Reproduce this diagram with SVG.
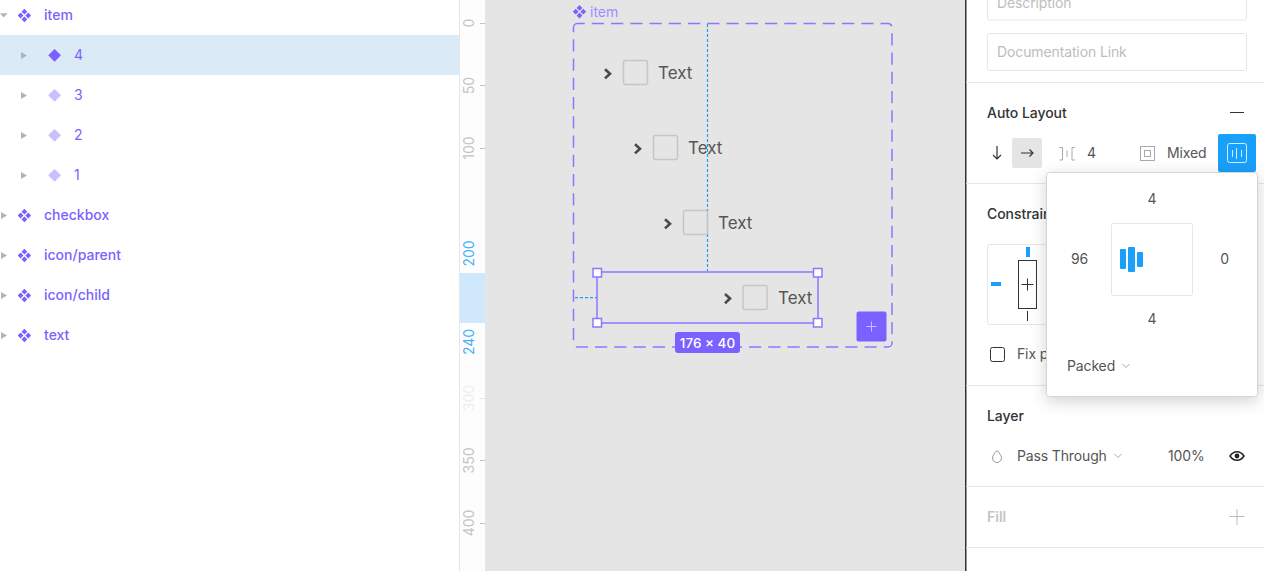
<svg xmlns="http://www.w3.org/2000/svg" width="1264" height="571" viewBox="0 0 1264 571">
<style>
text{font-family:Inter,"Noto Sans","Liberation Sans",sans-serif}
.ln{font-size:14px;font-weight:500;fill:#7b61ff}
.lc{font-size:14px;fill:#7b61ff}
.rl{font-size:14px;fill:#c4c4c4}
.rb{font-size:14px;fill:#45b0fb}
.tick{stroke:#c4c4c4;stroke-width:1}
.ct{font-size:17px;fill:#555}
.cb{fill:none;stroke:#c6c6c6;stroke-width:1.5}
.chev{fill:none;stroke:#4a4a4a;stroke-width:2.6}
.h{font-size:14px;font-weight:500;fill:#333;letter-spacing:-.05px}
.p{font-size:14px;fill:#555;letter-spacing:-.14px}
.ph{font-size:14px;fill:#bdbdbd;letter-spacing:-.12px}
.sep{stroke:#e6e6e6;stroke-width:1}
.field{fill:#fff;stroke:#e6e6e6;stroke-width:1}
.tri{fill:#b3b3b3}
.hd{fill:#fff;stroke:#8f75ff;stroke-width:1.5}
.blue{fill:#18a0fb}
.guide{fill:none;stroke:#18a0fb;stroke-width:1.2;stroke-dasharray:3 2}
</style>
<defs>
<path id="comp" d="M0-6.700 2.900-3.800 0-.9-2.900-3.800ZM0 .9 2.900 3.800 0 6.700-2.900 3.800ZM-3.800-2.900-.9 0-3.800 2.900-6.700 0ZM3.800-2.900 6.700 0 3.800 2.900 .9 0Z" fill="#7b61ff"/>
<path id="dia" d="M0-6.400 6.400 0 0 6.400-6.400 0Z"/>
<path id="tr" d="M0-3.500 6 0 0 3.500Z" class="tri"/>
<filter id="shadow" x="-20%" y="-20%" width="140%" height="140%"><feDropShadow dx="0" dy="4" stdDeviation="8" flood-color="#000" flood-opacity=".18"/></filter>
</defs>
<rect width="1264" height="571" fill="#fff"/>

<g id="layers">
<rect x="0" y="35" width="459" height="40" fill="#daeaf7"/>
<path d="M0 13.300H7.500L3.700 17.500Z" class="tri"/>
<use href="#comp" x="24.400" y="15.500"/><text class="ln" x="44" y="20">item</text>
<use href="#tr" x="21" y="55.500"/><use href="#dia" x="54.600" y="55.300" fill="#7b61ff"/><text class="lc" x="74" y="60">4</text>
<use href="#tr" x="21" y="95.500"/><use href="#dia" x="54.600" y="95.300" fill="#cbc0ff"/><text class="lc" x="74" y="100">3</text>
<use href="#tr" x="21" y="135.500"/><use href="#dia" x="54.600" y="135.300" fill="#cbc0ff"/><text class="lc" x="74" y="140">2</text>
<use href="#tr" x="21" y="175.500"/><use href="#dia" x="54.600" y="175.300" fill="#cbc0ff"/><text class="lc" x="74" y="180">1</text>
<use href="#tr" x="1" y="215.500"/><use href="#comp" x="24.400" y="215.500"/><text class="ln" x="44" y="220">checkbox</text>
<use href="#tr" x="1" y="255.500"/><use href="#comp" x="24.400" y="255.500"/><text class="ln" x="44" y="260">icon/parent</text>
<use href="#tr" x="1" y="295.500"/><use href="#comp" x="24.400" y="295.500"/><text class="ln" x="44" y="300">icon/child</text>
<use href="#tr" x="1" y="335.500"/><use href="#comp" x="24.400" y="335.500"/><text class="ln" x="44" y="340">text</text>
</g>

<rect id="canvas" x="485" y="0" width="480" height="571" fill="#e5e5e5"/>

<g id="ruler">
<rect x="459.500" y="-1" width="26" height="573" fill="#fdfdfd" stroke="#e6e6e6"/>
<rect x="460" y="273" width="25" height="50" fill="#cfe8fc"/>
<path class="tick" d="M480 23.500H485M480 85.500H485M480 148.500H485M480 460.500H485M480 523.500H485"/>
<path d="M480 398.500H485" stroke="#e8e8e8"/>
<text class="rl" transform="translate(474 23) rotate(-90)" text-anchor="middle">0</text>
<text class="rl" transform="translate(474 85.500) rotate(-90)" text-anchor="middle">50</text>
<text class="rl" transform="translate(474 148) rotate(-90)" text-anchor="middle">100</text>
<text class="rb" transform="translate(474 253.500) rotate(-90)" text-anchor="middle">200</text>
<text class="rb" transform="translate(474 342) rotate(-90)" text-anchor="middle">240</text>
<text class="rl" style="fill:#eeeeee" transform="translate(474 398) rotate(-90)" text-anchor="middle">300</text>
<text class="rl" transform="translate(474 460.500) rotate(-90)" text-anchor="middle">350</text>
<text class="rl" transform="translate(474 523) rotate(-90)" text-anchor="middle">400</text>
</g>

<g id="frame">
<use href="#comp" x="579.500" y="11.700"/>
<text x="590" y="17" font-size="14" fill="#a08dff">item</text>
<rect x="573.500" y="23.500" width="318.500" height="323.500" rx="4" fill="none" stroke="#8f75ff" stroke-width="1.500" stroke-dasharray="12.250 7" stroke-dashoffset="5"/>
</g>

<g id="connectors">
<path class="guide" d="M707.500 24V271"/>
<path class="guide" d="M575 297.700H597"/>
</g>

<g id="item1"><path class="chev" d="M605 69.200 610 73.700 605 78.400"/><rect class="cb" x="623.500" y="60.500" width="24" height="24" rx="2"/><text class="ct" x="658" y="78.500">Text</text></g>
<g id="item2"><path class="chev" d="M635 144.200 640 148.700 635 153.400"/><rect class="cb" x="653.500" y="135.500" width="24" height="24" rx="2"/><text class="ct" x="688" y="153.500">Text</text></g>
<g id="item3"><path class="chev" d="M665 219.200 670 223.700 665 228.400"/><rect class="cb" x="683.500" y="210.500" width="24" height="24" rx="2"/><text class="ct" x="718" y="228.500">Text</text></g>
<g id="item4"><path class="chev" d="M725 294 730 298.500 725 303.200"/><rect class="cb" x="743" y="285.500" width="24" height="24" rx="2"/><text class="ct" x="778" y="303.500">Text</text></g>

<g id="selection">
<rect x="597" y="272" width="221" height="51" fill="none" stroke="#8f75ff" stroke-width="1.500"/>
<rect class="hd" x="593" y="268.500" width="8.500" height="8.500"/>
<rect class="hd" x="813.500" y="268.500" width="8.500" height="8.500"/>
<rect class="hd" x="593" y="318.500" width="8.500" height="8.500"/>
<rect class="hd" x="813.500" y="318.500" width="8.500" height="8.500"/>
</g>

<g id="size-badge">
<rect x="675" y="332" width="65" height="21" rx="3" fill="#7b61ff"/>
<text x="707.500" y="348" font-size="13.500" font-weight="500" fill="#fff" text-anchor="middle">176 × 40</text>
</g>

<g id="add-button">
<rect x="856.500" y="311.500" width="30" height="30" rx="2" fill="#7b61ff"/>
<path d="M871.500 321.500V331.500M866.500 326.500H876.500" stroke="#fff" stroke-width="1" opacity=".6"/>
</g>

<g id="panel">
<rect x="965" y="0" width="299" height="571" fill="#fff"/>
<rect x="965" y="0" width="1.500" height="571" fill="#333"/>
<rect class="field" x="987.500" y="-18.500" width="259" height="38.500" rx="2"/>
<text class="ph" x="997" y="8">Description</text>
<rect class="field" x="987.500" y="33.500" width="259" height="37" rx="2"/>
<text class="ph" x="997" y="57">Documentation Link</text>
<path class="sep" d="M966 82.500H1264M966 183.500H1264M966 385.500H1264M966 486.500H1264M966 547.500H1264"/>

<text class="h" x="987" y="118">Auto Layout</text>
<path d="M1230 112.500H1244" stroke="#333" stroke-width="1"/>

<path d="M997 146V158.500M993 155 997 159 1001 155" fill="none" stroke="#333" stroke-width="1.200"/>
<rect x="1012" y="138" width="30" height="30" rx="2" fill="#e5e5e5"/>
<path d="M1021 153H1033M1029.500 149.500 1033 153 1029.500 156.500" fill="none" stroke="#333" stroke-width="1.200"/>
<path d="M1059.500 147.500H1062.500V160H1059.500M1075 147.500H1072V160H1075M1067 150.500V157" fill="none" stroke="#aaa" stroke-width="1"/>
<text class="p" x="1087" y="158">4</text>
<rect x="1140.500" y="146.500" width="14" height="14" fill="none" stroke="#aaa" stroke-width="1"/>
<rect x="1144.500" y="150.500" width="6" height="6" fill="none" stroke="#aaa" stroke-width="1"/>
<text class="p" x="1167" y="158">Mixed</text>
<rect x="1218" y="134" width="38" height="38" rx="2" class="blue"/>
<rect x="1227.500" y="143.500" width="19" height="19" rx="2" fill="none" stroke="#fff" stroke-opacity=".8"/>
<path d="M1232.500 150V157M1236.500 148V159M1241.500 150V157" stroke="#fff" stroke-opacity=".8"/>

<text class="h" x="987" y="219">Constrain</text>
<rect class="field" x="987.500" y="244.500" width="100" height="80" rx="2"/>
<rect class="blue" x="1026" y="247" width="4" height="10"/>
<rect class="blue" x="991" y="282" width="10" height="4"/>
<rect x="1018.500" y="260.500" width="18" height="48" fill="none" stroke="#333"/>
<path d="M1027.500 278.500V290.500M1021.500 284.500H1033.500M1027.500 311V321" stroke="#333" fill="none"/>
<rect x="990.500" y="347.500" width="14" height="14" rx="2" fill="#fff" stroke="#333"/>
<text class="p" x="1017" y="359">Fix p</text>

<text class="h" x="987" y="421">Layer</text>
<path d="M997 450.500C999.500 453.500 1001.500 455.500 1001.500 458A4.500 4.500 0 0 1 992.500 458C992.500 455.500 994.500 453.500 997 450.500Z" fill="none" stroke="#999"/>
<text class="p" x="1017" y="461">Pass Through</text>
<path d="M1114.500 454 1118 457.500 1121.500 454" fill="none" stroke="#aaa"/>
<text class="p" x="1168" y="461">100%</text>
<path d="M1230 456C1232 453 1234.500 451.700 1237 451.700S1242 453 1244 456C1242 459 1239.500 460.300 1237 460.300S1232 459 1230 456Z" fill="none" stroke="#222" stroke-width="1.500"/>
<circle cx="1237" cy="456" r="2.400" fill="#222"/>

<text x="987" y="522" font-size="14" font-weight="600" fill="#c4c4c4">Fill</text>
<path d="M1237 509V525M1229.500 516.500H1244.500" stroke="#bdbdbd" fill="none"/>
</g>

<g id="popover">
<rect x="1046.500" y="172.500" width="211" height="224" rx="3" fill="#fff" stroke="#d4d4d4" filter="url(#shadow)"/>
<text class="p" x="1152" y="204" text-anchor="middle">4</text>
<text class="p" x="1079.500" y="264" text-anchor="middle">96</text>
<rect class="field" x="1111.500" y="223.500" width="81" height="72" rx="2"/>
<rect class="blue" x="1120" y="249" width="6" height="20" rx="1"/>
<rect class="blue" x="1128" y="247" width="7" height="25" rx="1"/>
<rect class="blue" x="1137" y="252" width="6" height="15" rx="1"/>
<text class="p" x="1224.500" y="264" text-anchor="middle">0</text>
<text class="p" x="1152" y="324" text-anchor="middle">4</text>
<text class="p" x="1067" y="371">Packed</text>
<path d="M1122.500 364 1126 367.500 1129.500 364" fill="none" stroke="#aaa"/>
</g>
</svg>
